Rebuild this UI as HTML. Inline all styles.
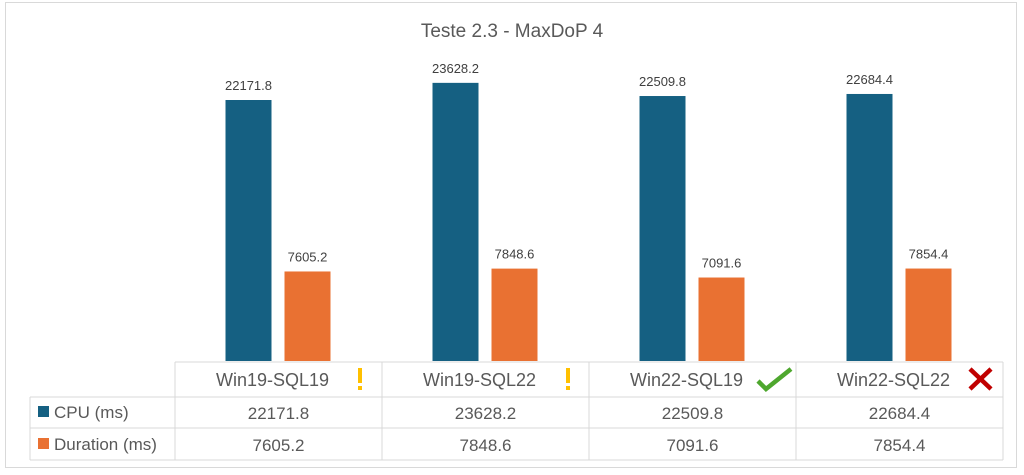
<!DOCTYPE html>
<html><head><meta charset="utf-8"><style>
body{margin:0;background:#fff;width:1024px;height:470px;overflow:hidden;font-family:"Liberation Sans",sans-serif}
svg text{font-family:"Liberation Sans",sans-serif}
</style></head><body>
<svg id="c" width="1024" height="470" xmlns="http://www.w3.org/2000/svg">
<rect x="5.5" y="2.5" width="1011" height="465" fill="#fff" stroke="#d9d9d9"/>
<text x="512" y="37" text-anchor="middle" font-size="19" fill="#595959">Teste 2.3 - MaxDoP 4</text>
<g id="bars"></g>
<g id="table" stroke="#d9d9d9" fill="none">
<line x1="175" y1="362" x2="1003" y2="362"/>
<line x1="30" y1="397" x2="1003" y2="397"/>
<line x1="30" y1="428" x2="1003" y2="428"/>
<line x1="30" y1="460" x2="1003" y2="460"/>
<line x1="30" y1="397" x2="30" y2="460"/>
<line x1="175" y1="362" x2="175" y2="460"/>
<line x1="382" y1="362" x2="382" y2="460"/>
<line x1="589" y1="362" x2="589" y2="460"/>
<line x1="796" y1="362" x2="796" y2="460"/>
<line x1="1003" y1="362" x2="1003" y2="460"/>
</g>
<rect x="38" y="406" width="11" height="11" fill="#156082"/>
<text x="54" y="418" font-size="17" fill="#595959">CPU (ms)</text>
<rect x="38" y="438" width="11" height="11" fill="#e97132"/>
<text x="54" y="450" font-size="17" fill="#595959">Duration (ms)</text>
<g><rect x="358" y="368" width="4" height="15" fill="#ffc000"/><rect x="358" y="386" width="4" height="4" fill="#ffc000"/></g>
<g><rect x="566" y="368" width="4" height="15" fill="#ffc000"/><rect x="566" y="386" width="4" height="4" fill="#ffc000"/></g>
<path d="M758 381 L766 389 L791 369" stroke="#4ea72e" stroke-width="4.5" fill="none"/>
<path d="M970 369 L991 389 M991 369 L970 389" stroke="#c00000" stroke-width="4.5" fill="none"/>
<g id="tt"></g>
</svg>
<script>
const categories=["Win19-SQL19","Win19-SQL22","Win22-SQL19","Win22-SQL22"];
const cpuValues=[22171.8,23628.2,22509.8,22684.4];
const durationValues=[7605.2,7848.6,7091.6,7854.4];
const NS="http://www.w3.org/2000/svg";
const base=361, scale=261/22171.8;
const y=v=>base-v*scale;
const colX=i=>175+207*i;
const g=document.getElementById('bars'), tt=document.getElementById('tt');
function mk(tag,attrs,parent,txt){const e=document.createElementNS(NS,tag);for(const k in attrs)e.setAttribute(k,attrs[k]);if(txt!==undefined)e.textContent=txt;parent.appendChild(e);return e;}
categories.forEach((c,i)=>{
  const cx=colX(i)+103.5;
  [[cpuValues[i],cx-53,'#156082','cpu'],[durationValues[i],cx+6,'#e97132','duration']].forEach(([v,x,col,n])=>{
    const r=mk('rect',{x:x,y:y(v),width:46,height:base-y(v),fill:col},g);
    
    
    const t=mk('text',{x:x+23,y:y(v)-10,'text-anchor':'middle','font-size':13,fill:'#404040'},g,String(v));
    
    
  });
  const h=mk('text',{x:cx-6,y:386,'text-anchor':'middle','font-size':18,fill:'#595959'},tt,c);
  
  
  const a=mk('text',{x:cx,y:419,'text-anchor':'middle','font-size':17,fill:'#595959'},tt,String(cpuValues[i]));
  
  
  const b=mk('text',{x:cx,y:451,'text-anchor':'middle','font-size':17,fill:'#595959'},tt,String(durationValues[i]));
  
  
});
</script>
</body></html>
